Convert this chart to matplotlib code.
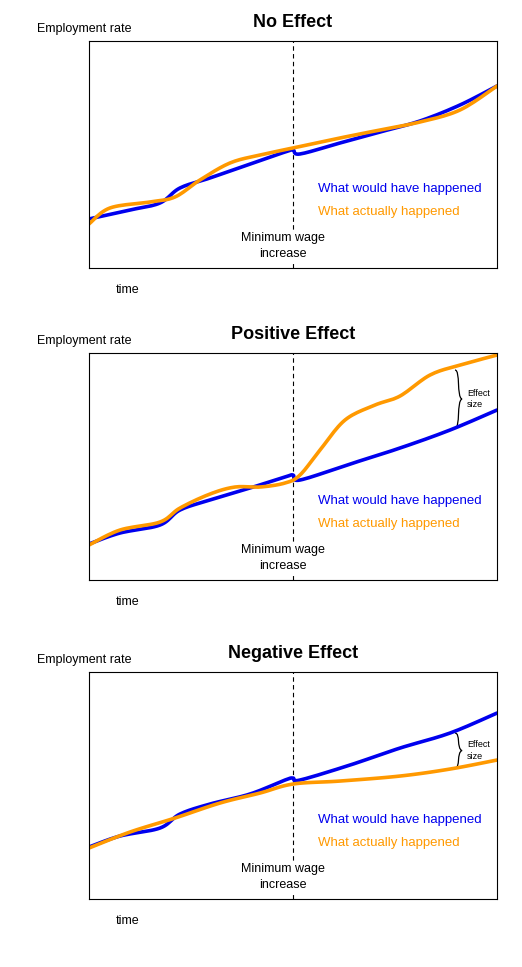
import matplotlib
matplotlib.use("Agg")
import matplotlib.pyplot as plt
from matplotlib.path import Path
from matplotlib.patches import PathPatch
import numpy as np

plt.rcParams['font.family'] = ['Liberation Sans', 'DejaVu Sans']

titles = ["No Effect", "Positive Effect", "Negative Effect"]
blue_x = [[0,41,71,91,121,161,196,204,211,251,291,331,371,408],
          [0,31,71,91,121,161,196,204,211,261,311,361,408],
          [0,31,71,91,121,161,196,204,211,261,311,361,408]]
blue_y = [[49,58,65,80,90,104,116,118,114,125,136,147,163,182],
          [36,47,55,70,80,92,103,105,100,116,132,150,170],
          [52,63,71,85,95,105,119,121,119,134,151,166,186]]
orange_x = [[0,21,61,86,111,141,171,204,251,291,331,371,408],
            [0,31,71,91,121,146,171,196,211,231,256,286,311,341,371,408],
            [0,41,86,131,171,204,251,311,361,408]]
orange_y = [[44,60,66,71,88,105,113,120,130,138,146,158,182],
            [35,50,58,72,86,93,93,97,105,130,160,175,184,205,215,225],
            [51,67,81,96,106,115,118,123,130,139]]
braces = [None, (366, 152, 210), (366, 131, 166)]

def smooth(xs, ys, n=12):
    xs = list(xs); ys = list(ys)
    px = [xs[0]] + xs + [xs[-1]]
    py = [ys[0]] + ys + [ys[-1]]
    ox, oy = [], []
    t = np.linspace(0, 1, n, endpoint=False)
    for i in range(1, len(px) - 2):
        for arr, out in ((px, ox), (py, oy)):
            p0, p1, p2, p3 = arr[i-1], arr[i], arr[i+1], arr[i+2]
            out.extend(0.5*((2*p1) + (-p0+p2)*t + (2*p0-5*p1+4*p2-p3)*t**2 + (-p0+3*p1-3*p2+p3)*t**3))
    ox.append(xs[-1]); oy.append(ys[-1])
    return ox, oy

fig = plt.figure(figsize=(5.22, 9.67), dpi=100)
bottoms = [0.7229, 0.4002, 0.0703]
for k in range(3):
    ax = fig.add_axes([0.1705, bottoms[k], 0.7816, 0.2347])
    ax.set_xlim(0, 408); ax.set_ylim(0, 227)
    ax.set_xticks([]); ax.set_yticks([])
    for s in ax.spines.values():
        s.set_linewidth(0.8)
    ax.axvline(204, color='black', ls=(0, (4, 3)), lw=0.8)
    bx, by = smooth(blue_x[k], blue_y[k])
    ox, oy = smooth(orange_x[k], orange_y[k])
    ax.plot(bx, by, color='#0000ee', lw=2.6, solid_capstyle='round')
    ax.plot(ox, oy, color='#ff9900', lw=2.6, solid_capstyle='round')
    ax.text(229, 79, "What would have happened", color='#0000ee', fontsize=9.5, va='center')
    ax.text(229, 56, "What actually happened", color='#ff9900', fontsize=9.5, va='center')
    ax.text(194, 22, "Minimum wage\nincrease", ha='center', va='center', fontsize=9,
            linespacing=1.5, bbox=dict(facecolor='white', edgecolor='none', pad=1))
    ax.set_title(titles[k], fontsize=13, fontweight='bold', pad=10)
    ax.text(-52, 236, "Employment rate", fontsize=9, clip_on=False)
    ax.text(27, -25, "time", fontsize=9, clip_on=False)
    if braces[k]:
        x0, y0, y1 = braces[k]
        ym = (y0 + y1) / 2
        w = 7
        verts = [(x0, y0), (x0+w*0.8, y0), (x0+w*0.2, ym-2), (x0+w, ym),
                 (x0+w*0.2, ym+2), (x0+w*0.8, y1), (x0, y1)]
        codes = [Path.MOVETO, Path.CURVE4, Path.CURVE4, Path.CURVE4,
                 Path.CURVE4, Path.CURVE4, Path.CURVE4]
        ax.add_patch(PathPatch(Path(verts, codes), fill=False, lw=0.9, color='black'))
        ax.text(x0 + 12, ym, "Effect\nsize", fontsize=6.5, va='center', ha='left', linespacing=1.3)

fig.savefig("out.png", dpi=100)
